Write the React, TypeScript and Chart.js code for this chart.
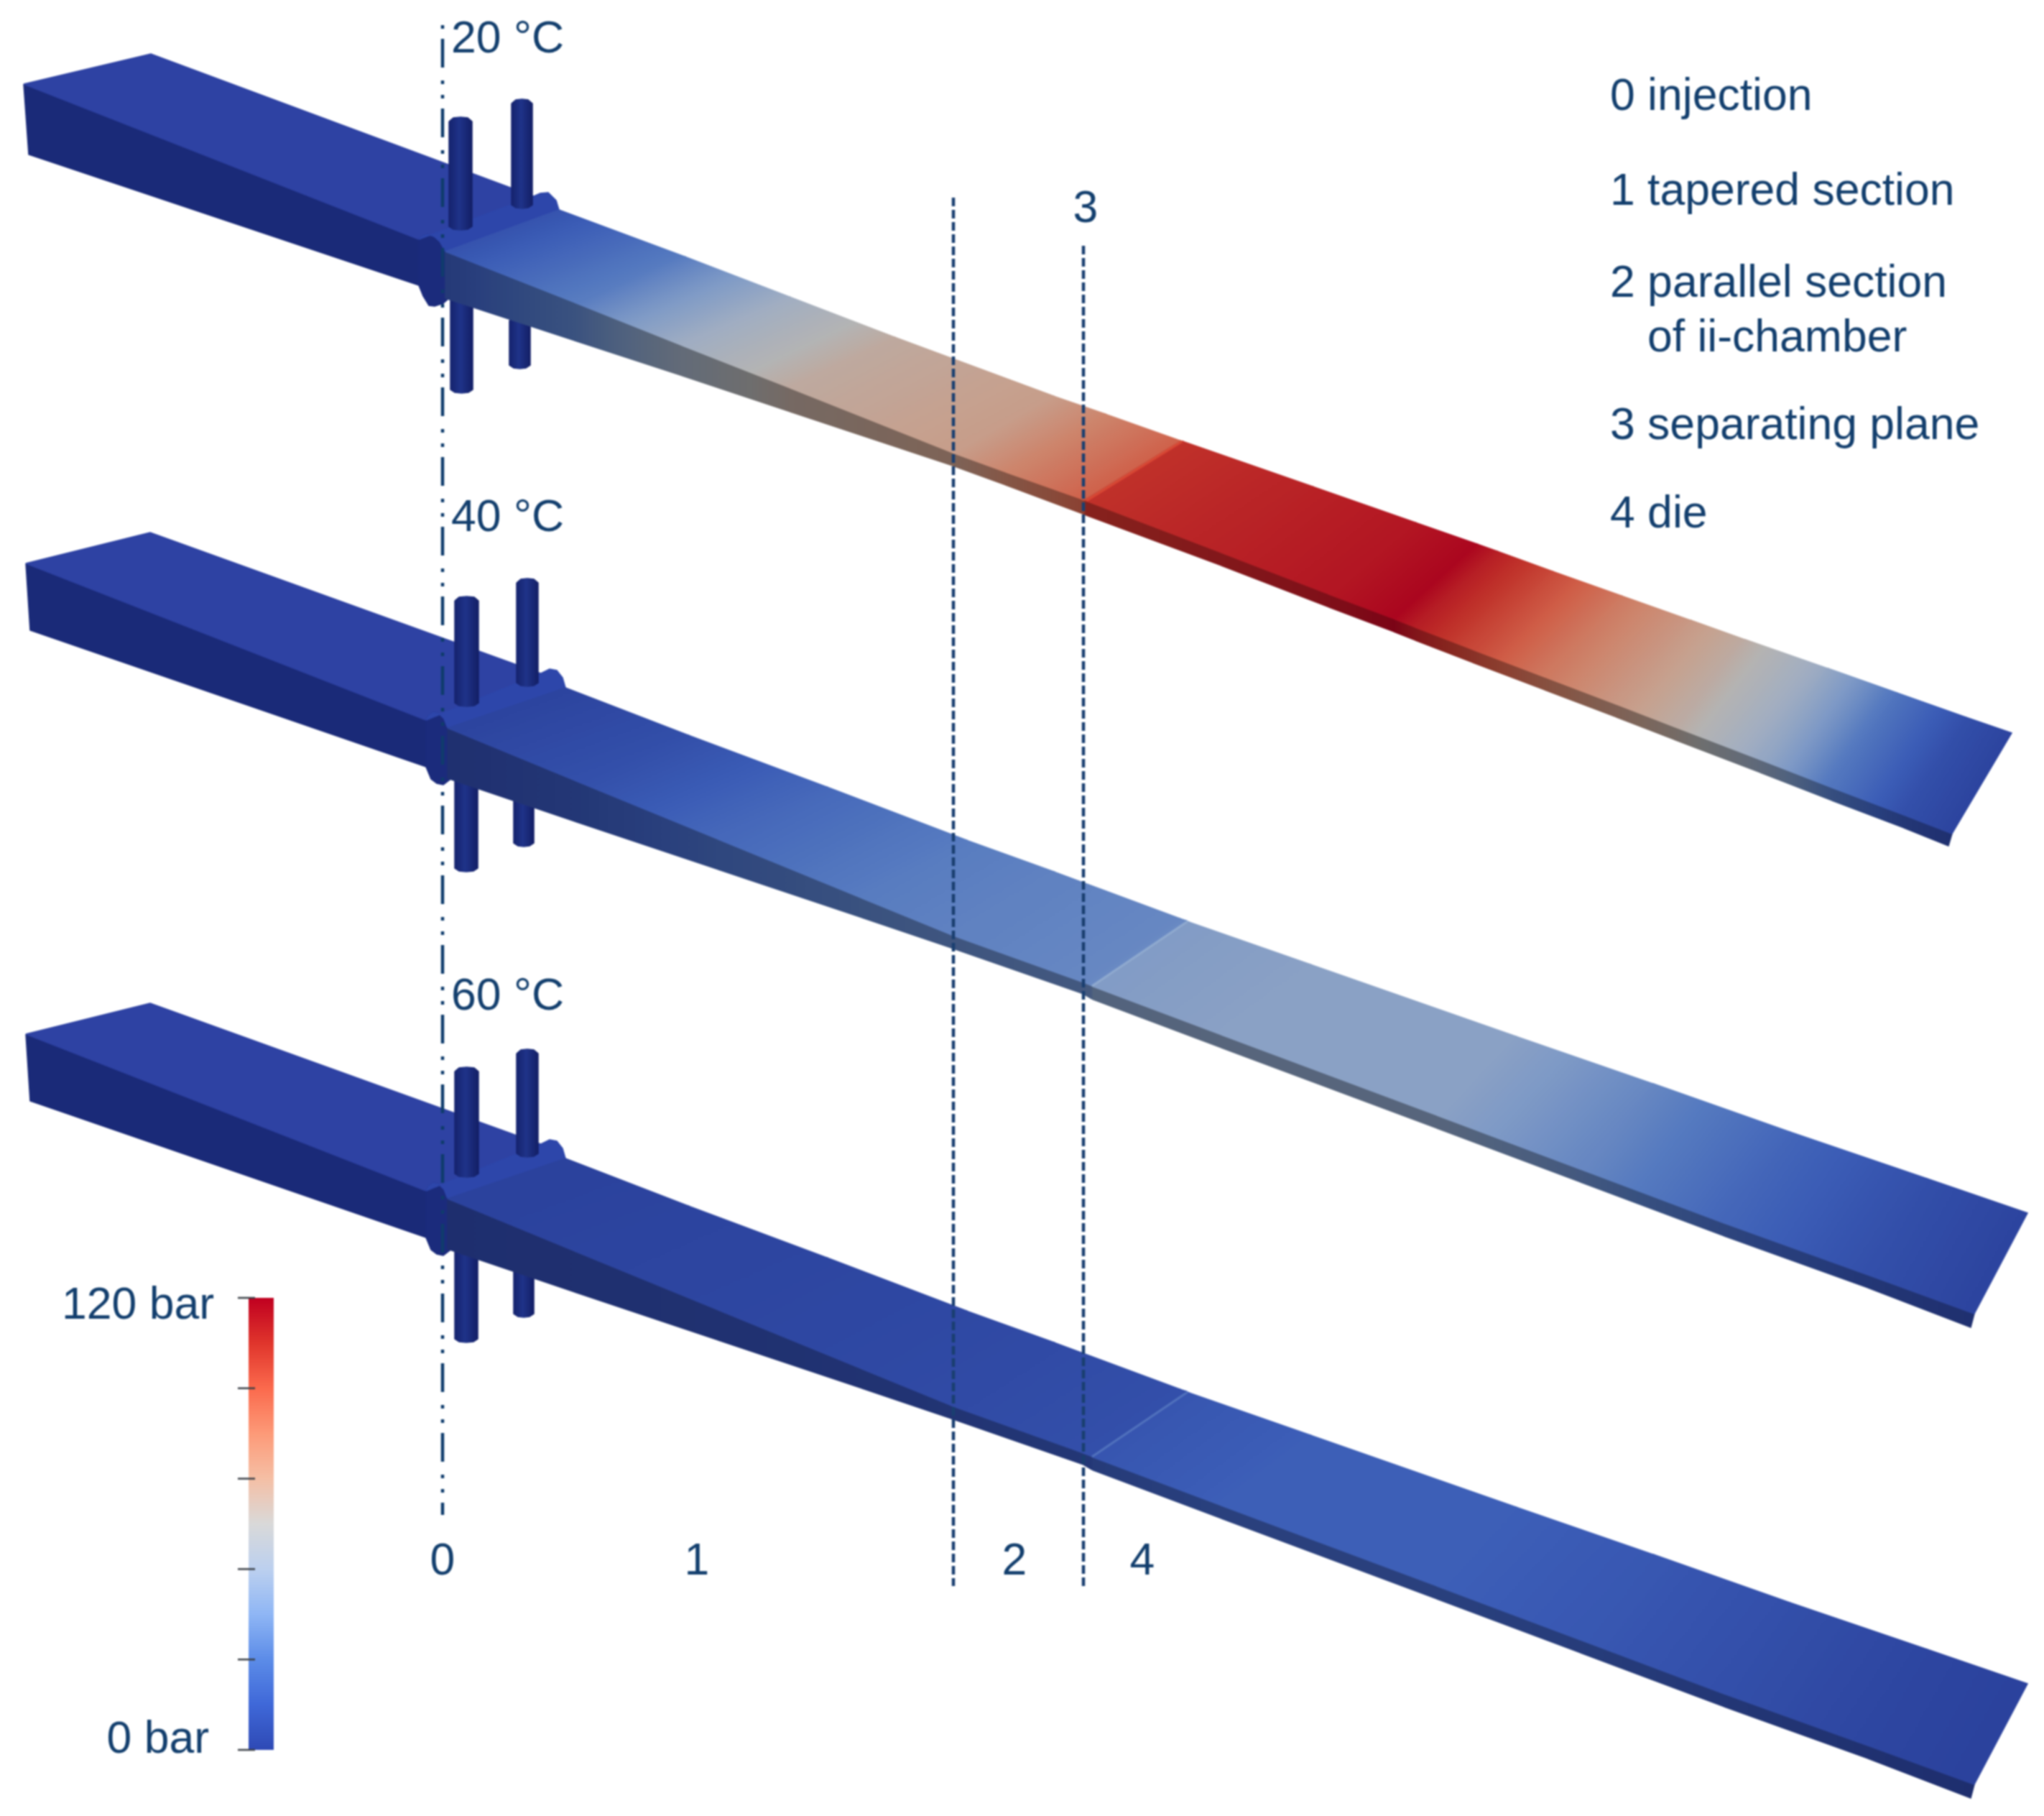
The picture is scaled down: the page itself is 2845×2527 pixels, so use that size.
import React, { useEffect, useRef } from "react";
import { Chart, registerables } from "chart.js";

Chart.register(...registerables);

type Pt = number[];

const W = 2845;
const H = 2527;

// pressure in bar at each station along the visible top face
const pressure20 = [8, 25, 48, 67, 74, 84, 95, 108, 112, 115, 119, 113, 102, 88, 76, 66, 44, 22, 6, 1];
const pressure40 = [1, 6, 17, 25, 27, 29, 30, 37, 40, 40, 29, 16, 6, 1];
const pressure60 = [0, 1, 2, 3, 4, 6, 6, 9, 13, 13, 10, 6, 2, 0];

// outline of the 20 °C bar
const nearX20 = [620, 800, 950, 1100, 1326, 1400, 1507, 1512, 1700, 1850, 1940, 1970, 2050, 2150, 2250, 2330, 2450, 2550, 2650, 2717];
const nearY20 = [350, 421, 481, 540, 630, 657, 695, 697, 769, 827, 861, 873, 904, 942, 980, 1011, 1057, 1096, 1134, 1160];
const farX20 = [778, 953, 1099, 1245, 1466, 1538, 1642, 1646, 1827, 1970, 2056, 2084, 2161, 2257, 2353, 2429, 2544, 2640, 2736, 2800];
const farY20 = [292, 357, 413, 469, 551, 576, 613, 614, 677, 727, 757, 767, 795, 829, 863, 890, 930, 964, 998, 1020];
const bottomY20 = [415, 474, 523, 573, 648, 675, 715, 717, 787, 845, 879, 891, 922, 960, 998, 1029, 1075, 1114, 1152, 1177];

// the 40 °C bar, the 60 °C one is the same shape further down
const nearX40 = [623, 800, 1000, 1200, 1327, 1508, 1518, 1522, 1700, 2000, 2200, 2400, 2600, 2748];
const nearY40 = [1013, 1086, 1168, 1250, 1302, 1367, 1371, 1373, 1440, 1552, 1627, 1702, 1774, 1828];
const farX40 = [787, 958, 1151, 1345, 1467, 1642, 1651, 1655, 1824, 2110, 2301, 2491, 2682, 2822];
const farY40 = [957, 1023, 1095, 1169, 1213, 1278, 1281, 1283, 1342, 1442, 1508, 1575, 1640, 1688];
const bottomY40 = [1083, 1143, 1210, 1277, 1320, 1383, 1389, 1391, 1458, 1570, 1645, 1720, 1792, 1847];
const shift60 = 655;

// inlet block, ridge and side of ridge
const blockTop20: Pt[] = [[33, 117], [210, 75], [745, 274], [620, 350], [583, 333]];
const blockSide20: Pt[] = [[33, 117], [40, 215], [583, 397], [583, 333]];
const ridgeTop20: Pt[] = [[583, 333], [589, 328], [595, 326], [604, 329], [612, 336], [620, 350], [778, 292], [774, 279], [763, 268], [752, 269], [743, 273]];
const ridgeSide20: Pt[] = [[583, 333], [589, 328], [595, 326], [604, 329], [612, 336], [620, 350], [625, 415], [617, 422], [605, 426], [597, 425], [589, 412], [583, 397]];
const blockTop40: Pt[] = [[36, 784], [209, 741], [755, 938], [623, 1013], [593, 1002]];
const blockSide40: Pt[] = [[36, 784], [42, 877], [593, 1067], [593, 1002]];
const ridgeTop40: Pt[] = [[593, 1002], [597, 995], [603, 991], [611, 993], [618, 1000], [623, 1013], [787, 957], [783, 943], [775, 933], [765, 931], [753, 937]];
const ridgeSide40: Pt[] = [[593, 1002], [597, 995], [603, 991], [611, 993], [618, 1000], [623, 1013], [630, 1082], [617, 1092], [608, 1090], [600, 1084], [593, 1067]];

// x left, x right, y top, y bottom
const pinsUpper20 = [[625, 657, 163, 320], [712, 741, 138, 290]];
const pinsLower20 = [[627, 658, 410, 547], [709, 738, 440, 513]];
const pinsUpper40 = [[633, 666, 830, 983], [719, 749, 805, 955]];
const pinsLower40 = [[633, 665, 1080, 1213], [715, 743, 1100, 1178]];

const colormap = ["#2e49b5", "#3f68d8", "#5c8ce8", "#8fb6f5", "#bcd0ef", "#d9d9d9", "#f5bfa5", "#fd9a78", "#fb6a4d", "#e0352c", "#c00020"];
const barTicks = [0, 24, 48, 72, 96, 120];
const barBottom = 2435;
const barTop = 1806;

const FONT = '62.5px "Liberation Sans"';
const textColor = "#123e6d";
const labels: [string, number, number, CanvasTextAlign][] = [
  ["20 °C", 628, 73, "left"],
  ["40 °C", 628, 739, "left"],
  ["60 °C", 628, 1405, "left"],
  ["3", 1511, 309, "center"],
  ["0 injection", 2241, 153, "left"],
  ["1 tapered section", 2241, 285, "left"],
  ["2 parallel section", 2241, 413, "left"],
  ["of ii-chamber", 2293, 489, "left"],
  ["3 separating plane", 2241, 611, "left"],
  ["4 die", 2241, 734, "left"],
  ["0", 616, 2191, "center"],
  ["1", 970, 2191, "center"],
  ["2", 1412, 2191, "center"],
  ["4", 1590, 2191, "center"],
  ["120 bar", 298, 1835, "right"],
  ["0 bar", 291, 2439, "right"],
];

const hexRgb = (h: string) => [1, 3, 5].map((i) => parseInt(h.slice(i, i + 2), 16));

function colorAt(p: number) {
  const t = Math.min(Math.max(p / 120, 0), 1) * (colormap.length - 1);
  const i = Math.min(Math.floor(t), colormap.length - 2);
  const a = hexRgb(colormap[i]);
  const b = hexRgb(colormap[i + 1]);
  return a.map((v, k) => v + (b[k] - v) * (t - i));
}

// faces of the model are darker and greyer than the colour bar, pale tones most of all
function shaded(p: number, base: number, drop: number) {
  const raw = colorAt(p);
  const bright = (raw[0] + raw[1] + raw[2]) / 765;
  const c = raw.map((v) => v * (base - drop * bright));
  const grey = (c[0] + c[1] + c[2]) / 3;
  const mix = 0.3 * bright * bright;
  const m = c.map((v) => Math.round(v + (grey - v) * mix));
  return `rgb(${m[0]},${m[1]},${m[2]})`;
}

// scriptable colour: linear gradient given in data coordinates
const gradient = (from: Pt, to: Pt, stops: [number, string][]) => ({ chart }: any) => {
  const { x, y } = chart.scales;
  const c = [x.getPixelForValue(from[0]), y.getPixelForValue(from[1]), x.getPixelForValue(to[0]), y.getPixelForValue(to[1])];
  // scales have no size yet on the very first resolve
  if (!c.every(Number.isFinite)) return stops[0][1];
  const g = chart.ctx.createLinearGradient(c[0], c[1], c[2], c[3]);
  stops.forEach(([o, col]) => g.addColorStop(o, col));
  return g;
};

const polygon = (points: Pt[], color: any, edge = 1.5) => ({
  data: [...points, points[0]].map(([x, y]) => ({ x, y })),
  fill: "shape",
  backgroundColor: color,
  borderColor: color,
  borderWidth: edge,
  pointRadius: 0,
  tension: 0,
});

const stroke = (points: Pt[], color: string, width: number, dash: number[] = [], offset = 0) => ({
  data: points.map(([x, y]) => ({ x, y })),
  fill: false,
  borderColor: color,
  borderWidth: width,
  borderDash: dash,
  borderDashOffset: offset,
  pointRadius: 0,
  tension: 0,
});

// one strip between two stations, colour runs across the station lines
function strip(a0: Pt, a1: Pt, b0: Pt, b1: Pt, p0: number, p1: number, base: number, drop: number) {
  const ca = [(a0[0] + a1[0]) / 2, (a0[1] + a1[1]) / 2];
  const cb = [(b0[0] + b1[0]) / 2, (b0[1] + b1[1]) / 2];
  const dx = a1[0] - a0[0] + b1[0] - b0[0];
  const dy = a1[1] - a0[1] + b1[1] - b0[1];
  const len = Math.hypot(dx, dy) || 1;
  const n = [-dy / len, dx / len];
  const d = (cb[0] - ca[0]) * n[0] + (cb[1] - ca[1]) * n[1];
  const to = [ca[0] + n[0] * d, ca[1] + n[1] * d];
  const stops: [number, string][] = [];
  for (let i = 0; i <= 8; i++) stops.push([i / 8, shaded(p0 + ((p1 - p0) * i) / 8, base, drop)]);
  return polygon([a0, a1, b1, b0], gradient(ca, to, stops));
}

function barFaces(nx: number[], ny: number[], fx: number[], fy: number[], by: number[], pressure: number[], dy: number) {
  const out: any[] = [];
  const last = nx.length - 1;
  // the outer corner of the side sits a little left of the top face corner
  const bx = (i: number) => (i === last ? nx[i] - 5 : nx[i]);
  for (let i = 0; i < last; i++) {
    out.push(strip([bx(i), by[i] + dy], [nx[i], ny[i] + dy], [bx(i + 1), by[i + 1] + dy], [nx[i + 1], ny[i + 1] + dy], pressure[i], pressure[i + 1], 0.72, 0.25));
  }
  for (let i = 0; i < last; i++) {
    out.push(strip([nx[i], ny[i] + dy], [fx[i], fy[i] + dy], [nx[i + 1], ny[i + 1] + dy], [fx[i + 1], fy[i + 1] + dy], pressure[i], pressure[i + 1], 0.93, 0.12));
  }
  return out;
}

function pin([l, r, t, b]: number[], dy: number) {
  const m = (l + r) / 2;
  const shape: Pt[] = [[l, t + 6], [l + 6, t + 1], [m, t], [r - 6, t + 1], [r, t + 6], [r, b - 5], [r - 6, b - 1], [m, b], [l + 6, b - 1], [l, b - 5]];
  const color = gradient([l, 0], [r, 0], [[0, "#15236e"], [0.45, "#1f3389"], [1, "#131f66"]]);
  return polygon(shape.map(([x, y]) => [x, y + dy]), color);
}

const moved = (pts: Pt[], dy: number) => pts.map(([x, y]) => [x, y + dy]);

function wholeBar(
  block: Pt[], side: Pt[], ridge: Pt[], ridgeSide: Pt[], pinsUp: number[][], pinsDown: number[][],
  faces: any[], seam: Pt[], seamColor: string, dy: number
) {
  return [
    ...pinsDown.map((p) => pin(p, dy)),
    polygon(moved(side, dy), "#1a2a78"),
    polygon(moved(block, dy), "#2e42a3"),
    polygon(moved(ridgeSide, dy), "#1b2b7c"),
    polygon(moved(ridge, dy), "#2d46aa"),
    ...faces,
    stroke(moved(seam, dy), seamColor, 3),
    ...pinsUp.map((p) => pin(p, dy)),
  ];
}

const textPlugin = {
  id: "texts",
  afterDatasetsDraw(chart: any) {
    const { ctx, scales } = chart;
    ctx.save();
    ctx.font = FONT;
    ctx.fillStyle = textColor;
    labels.forEach(([t, x, y, align]) => {
      ctx.textAlign = align;
      ctx.fillText(t, scales.x.getPixelForValue(x), scales.y.getPixelForValue(y));
    });
    ctx.restore();
  },
};

const App: React.FC = () => {
  const canvasRef = useRef<HTMLCanvasElement>(null!);

  useEffect(() => {
    const painted: any[] = [
      ...wholeBar(blockTop20, blockSide20, ridgeTop20, ridgeSide20, pinsUpper20, pinsLower20,
        barFaces(nearX20, nearY20, farX20, farY20, bottomY20, pressure20, 0),
        [[1512, 697], [1646, 614]], "rgba(235,90,60,0.55)", 0),
      ...wholeBar(blockTop40, blockSide40, ridgeTop40, ridgeSide40, pinsUpper40, pinsLower40,
        barFaces(nearX40, nearY40, farX40, farY40, bottomY40, pressure40, 0),
        [[1520, 1372], [1653, 1282]], "rgba(160,185,215,0.6)", 0),
      ...wholeBar(blockTop40, blockSide40, ridgeTop40, ridgeSide40, pinsUpper40, pinsLower40,
        barFaces(nearX40, nearY40, farX40, farY40, bottomY40, pressure60, shift60),
        [[1520, 1372], [1653, 1282]], "rgba(110,145,205,0.5)", shift60),
      // section lines
      stroke([[616, 33], [616, 2108]], "#0f3c6c", 4.5, [40, 18, 5, 15, 5, 14], 76),
      stroke([[1327, 275], [1327, 2207]], "#1a3f70", 4.5, [12, 5]),
      stroke([[1508, 342], [1508, 2210]], "#1a3f70", 4.5, [12, 5]),
      // colour bar
      polygon(
        [[346, barBottom], [381, barBottom], [381, barTop], [346, barTop]],
        gradient([0, barBottom], [0, barTop], colormap.map((c, i) => [i / (colormap.length - 1), c] as [number, string])),
        0
      ),
      ...barTicks.map((p) => {
        const y = barBottom - (p / 120) * (barBottom - barTop);
        return stroke([[331, y], [355, y]], "#3a3f46", 2.5);
      }),
    ];

    const chart = new Chart(canvasRef.current, {
      type: "line",
      data: { datasets: painted.reverse() },
      options: {
        animation: false,
        responsive: false,
        devicePixelRatio: 1,
        events: [],
        clip: false,
        layout: { padding: 0 },
        plugins: { legend: { display: false }, tooltip: { enabled: false } },
        scales: {
          x: { type: "linear", display: false, min: 0, max: W },
          y: { type: "linear", display: false, min: 0, max: H, reverse: true },
        },
      } as any,
      plugins: [textPlugin],
    });
    return () => chart.destroy();
  }, []);

  return (
    <div style={{ position: "absolute", left: 0, top: 0, width: W, height: H, background: "#fff" }}>
      <canvas ref={canvasRef} width={W} height={H} style={{ display: "block", filter: "blur(1px)" }} />
    </div>
  );
};

export default App;
